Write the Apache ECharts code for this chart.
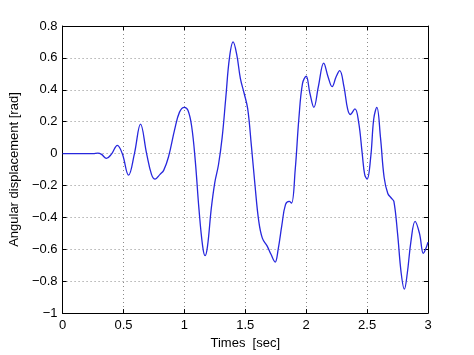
<!DOCTYPE html>
<html>
<head>
<meta charset="utf-8">
<script src="https://cdn.jsdelivr.net/npm/echarts@6/dist/echarts.min.js"></script>
<style>
    html, body { margin: 0; padding: 0; background: #fff; }
    #chart { width: 474px; height: 355px; }
</style>
</head>
<body>
<div id="chart"></div>
<script>
// time samples [sec]
var timeList = [
    0, 0.1, 0.2, 0.25, 0.29, 0.32, 0.36, 0.40, 0.45, 0.49,
    0.542, 0.59, 0.64, 0.69, 0.73, 0.76, 0.80, 0.83, 0.87, 0.92,
    0.96, 1.0, 1.03, 1.06, 1.09, 1.12, 1.15, 1.17, 1.19, 1.22,
    1.25, 1.28, 1.31, 1.34, 1.37, 1.40, 1.43, 1.46, 1.49, 1.52,
    1.55, 1.58, 1.61, 1.64, 1.68, 1.71, 1.745, 1.77, 1.80, 1.83,
    1.86, 1.88, 1.91, 1.94, 1.97, 2.0, 2.03, 2.063, 2.10, 2.144,
    2.18, 2.213, 2.245, 2.275, 2.31, 2.34, 2.362, 2.40, 2.43, 2.46,
    2.48, 2.50, 2.53, 2.555, 2.58, 2.61, 2.64, 2.67, 2.70, 2.72,
    2.75, 2.78, 2.806, 2.83, 2.86, 2.894, 2.93, 2.962, 2.98, 3.0
];

// angular displacement [rad]
var angleList = [
    0, 0, 0, 0, 0.003, -0.005, -0.03, -0.005, 0.052, 0.0,
    -0.135, 0.0, 0.185, 0.0, -0.13, -0.16, -0.13, -0.105, -0.02, 0.15,
    0.26, 0.29, 0.27, 0.17, -0.05, -0.35, -0.58, -0.64, -0.58, -0.35,
    -0.18, -0.07, 0.10, 0.35, 0.60, 0.70, 0.62, 0.47, 0.38, 0.28,
    0.05, -0.20, -0.42, -0.53, -0.58, -0.63, -0.68, -0.60, -0.45, -0.32,
    -0.30, -0.31, -0.10, 0.22, 0.44, 0.485, 0.38, 0.29, 0.42, 0.567,
    0.48, 0.42, 0.48, 0.52, 0.42, 0.28, 0.245, 0.28, 0.20, 0.0,
    -0.13, -0.16, -0.02, 0.22, 0.29, 0.10, -0.15, -0.25, -0.28, -0.30,
    -0.50, -0.75, -0.85, -0.75, -0.55, -0.425, -0.50, -0.625, -0.60, -0.555
];

var xTickLabels = ['0', '0.5', '1', '1.5', '2', '2.5', '3'];
var yTickLabels = ['\u22121', '\u22120.8', '\u22120.6', '\u22120.4', '\u22120.2', '0', '0.2', '0.4', '0.6', '0.8'];

var fontName = 'Liberation Sans, Arial, sans-serif';

function buildPoints() {
    var list = [];
    for (var i = 0; i < timeList.length; i++) {
        list.push([timeList[i], angleList[i]]);
    }
    return list;
}

// 坐标轴基础配置 (box axes, ticks inside like matlab)
function baseAxis(min, max, step, pos) {
    return {
        type: 'value',
        position: pos,
        min: min,
        max: max,
        interval: step,
        axisLine: { show: true, onZero: false, lineStyle: { color: '#000', width: 1 } },
        axisTick: { show: true, inside: true, length: 4, lineStyle: { color: '#000' } },
        axisLabel: { show: false },
        splitLine: { show: false }
    };
}

var createChart = function(wrap) {
    var myChart = echarts.init(wrap);

    var splitStyle = {
        show: true,
        lineStyle: { color: '#8a8a8a', width: 1, type: [1, 3] }
    };

    var xBottom = baseAxis(0, 3, 0.5, 'bottom');
    xBottom.name = 'Times  [sec]';
    xBottom.nameLocation = 'middle';
    xBottom.nameGap = 22;
    xBottom.nameTextStyle = { color: '#000', fontSize: 13, fontFamily: fontName };
    xBottom.axisLabel = {
        show: true,
        color: '#000',
        fontSize: 13,
        fontFamily: fontName,
        margin: 6,
        formatter: function(value) {
            return xTickLabels[Math.round(value / 0.5)];
        }
    };
    xBottom.splitLine = splitStyle;

    var yLeft = baseAxis(-1, 0.8, 0.2, 'left');
    yLeft.name = 'Angular displacement [rad]';
    yLeft.nameLocation = 'middle';
    yLeft.nameGap = 37;
    yLeft.nameRotate = 90;
    yLeft.nameTextStyle = { color: '#000', fontSize: 13, fontFamily: fontName };
    yLeft.axisLabel = {
        show: true,
        color: '#000',
        fontSize: 13,
        fontFamily: fontName,
        margin: 5,
        formatter: function(value) {
            return yTickLabels[Math.round((value + 1) / 0.2)];
        }
    };
    yLeft.splitLine = splitStyle;

    var option = {
        animation: false,
        grid: {
            left: 61,
            right: 46,
            top: 26,
            bottom: 40
        },
        xAxis: [xBottom, baseAxis(0, 3, 0.5, 'top')],
        yAxis: [yLeft, baseAxis(-1, 0.8, 0.2, 'right')],
        series: [{
            type: 'line',
            data: buildPoints(),
            smooth: 0.4,
            symbol: 'none',
            clip: true,
            lineStyle: { color: '#2727dd', width: 1.3 }
        }]
    };
    myChart.setOption(option);
};

createChart(document.getElementById('chart'));
</script>
</body>
</html>
